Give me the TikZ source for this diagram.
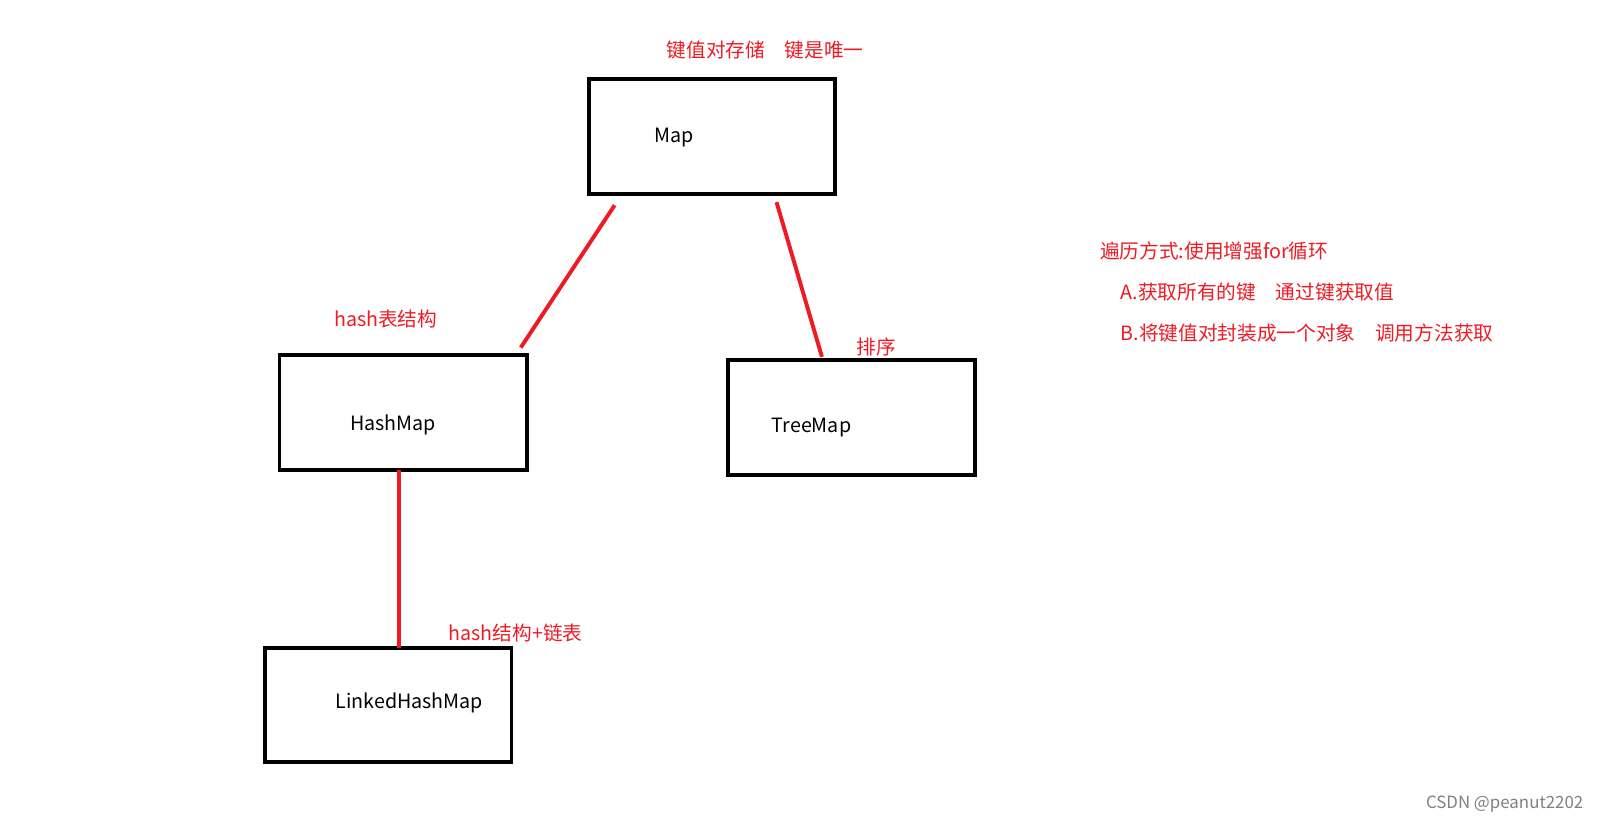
\documentclass[tikz,border=0pt]{standalone}
\usepackage{fontspec}
\setmainfont{Noto Sans CJK SC}
\definecolor{mapred}{RGB}{237,28,36}
\tikzset{
  box/.style={draw=black,line width=2.8pt},
  boxtext/.style={font=\fontsize{14}{16}\selectfont,text=black},
  note/.style={font=\fontsize{14}{16}\selectfont,text=mapred},
  link/.style={draw=mapred,line width=2.8pt}
}
\begin{document}
\begin{tikzpicture}[x=0.02578cm,y=-0.02578cm]

\useasboundingbox (0,0) rectangle (1568,799);

% boxes
\draw[box] (571,77) rectangle (810,188);
\draw[box] (271,344) rectangle (511,456);
\draw[box] (706,349) rectangle (945,461);
\draw[box] (257,628) rectangle (496,739);

\node[boxtext] (map) at (654,133) {Map};
\node[boxtext] (hash) at (381,412) {HashMap};
\node[boxtext] (tree) at (787,415) {TreeMap};
\node[boxtext] (linked) at (397,682) {LinkedHashMap};

% connectors
\coordinate (m1) at (596,199);
\coordinate (m2) at (753,196);
\coordinate (h1) at (505,337);
\coordinate (t1) at (797,346);
\coordinate (h2) at (387,456);
\coordinate (l1) at (387,628);
\draw[link] (m1)--(h1);
\draw[link] (m2)--(t1);
\draw[link] (h2)--(l1);

% notes
\node[note] (mapnote) at (742,49) {键值对存储\quad 键是唯一};
\node[note] (hashnote) at (374,309) {hash表结构};
\node[note] (treenote) at (850,336) {排序};
\node[note] (linkednote) at (500,614) {hash结构+链表};
\node[note,anchor=west] (iter) at (1062,243) {遍历方式:使用增强for循环};
\node[note,anchor=west] (iterA) at (1082,283) {A.获取所有的键\quad 通过键获取值};
\node[note,anchor=west] (iterB) at (1082,323) {B.将键值对封装成一个对象\quad 调用方法获取};

\node[font=\fontsize{12}{14}\selectfont,text=gray,anchor=west] (mark) at (1378,780) {CSDN @peanut2202};

\end{tikzpicture}
\end{document}
